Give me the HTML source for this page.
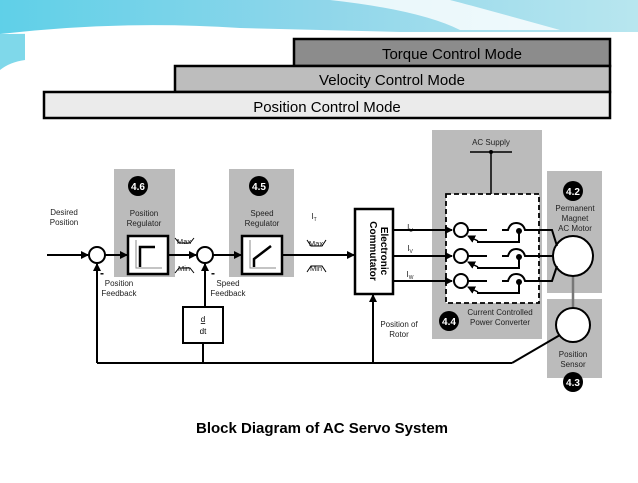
<!DOCTYPE html>
<html><head><style>
body{margin:0;width:638px;height:478px;overflow:hidden;background:#fff;font-family:"Liberation Sans",sans-serif}
</style></head><body>
<svg width="638" height="478" viewBox="0 0 638 478" xmlns="http://www.w3.org/2000/svg" font-family="Liberation Sans, sans-serif">
<defs>
<linearGradient id="g" x1="0" y1="0" x2="1" y2="0"><stop offset="0" stop-color="#5fd0e8"/><stop offset="0.5" stop-color="#8fd6ea"/><stop offset="1" stop-color="#b8e6ef"/></linearGradient>
<marker id="a" markerWidth="8" markerHeight="8" refX="7" refY="4" orient="auto" markerUnits="userSpaceOnUse"><path d="M0,0 L8,4 L0,8z" fill="#000"/></marker>
</defs>
<rect x="0" y="0" width="638" height="34" fill="url(#g)"/>
<path d="M0,34 Q120,20 240,28 L400,32 L0,34z" fill="#fff"/>
<path d="M0,34 L25,34 L25,60 Q10,62 0,70z" fill="#7fd8ea"/>
<path d="M330,0 Q420,10 460,30 L560,30 Q470,5 450,0z" fill="#fff" opacity="0.8"/>
<rect x="25" y="32" width="613" height="446" fill="#fff"/>
<rect x="294" y="39" width="316" height="27" fill="#8c8c8c" stroke="#000" stroke-width="2.5"/>
<text x="452" y="59" font-size="15" text-anchor="middle">Torque Control Mode</text>
<rect x="175" y="66" width="435" height="26" fill="#bdbdbd" stroke="#000" stroke-width="2.5"/>
<text x="392" y="85" font-size="15" text-anchor="middle">Velocity Control Mode</text>
<rect x="44" y="92" width="566" height="26" fill="#ebebeb" stroke="#000" stroke-width="2.5"/>
<text x="327" y="112" font-size="15" text-anchor="middle">Position Control Mode</text>
<rect x="114" y="169" width="61" height="108" fill="#bbb"/>
<rect x="229" y="169" width="65" height="108" fill="#bbb"/>
<rect x="432" y="130" width="110" height="209" fill="#bbb"/>
<rect x="547" y="171" width="55" height="122" fill="#bbb"/>
<rect x="547" y="299" width="55" height="79" fill="#bbb"/>
<g font-size="8" text-anchor="middle" fill="#222">
<text x="64" y="215">Desired</text><text x="64" y="225">Position</text>
<text x="144" y="216">Position</text><text x="144" y="226">Regulator</text>
<text x="262" y="216">Speed</text><text x="262" y="226">Regulator</text>
<text x="314" y="219">I<tspan font-size="5" dy="2">T</tspan></text>
<text x="119" y="286">Position</text><text x="119" y="296">Feedback</text>
<text x="228" y="286">Speed</text><text x="228" y="296">Feedback</text>
<text x="399" y="327">Position of</text><text x="399" y="337">Rotor</text>
<text x="491" y="145">AC Supply</text>
<text x="517" y="207">Current</text><text x="517" y="217">Sensors</text>
<text x="575" y="211">Permanent</text><text x="575" y="221">Magnet</text><text x="575" y="231">AC Motor</text>
<text x="500" y="315">Current Controlled</text><text x="500" y="325">Power Converter</text>
<text x="573" y="357">Position</text><text x="573" y="367">Sensor</text>
<text x="184" y="244" font-size="7.5">Max</text><text x="184" y="271" font-size="7.5">Min</text>
<text x="316" y="246" font-size="7.5">Max</text><text x="316" y="271" font-size="7.5">Min</text>
<text x="410" y="230">I<tspan font-size="5" dy="2">U</tspan></text>
<text x="410" y="251">I<tspan font-size="5" dy="2">V</tspan></text>
<text x="410" y="277">I<tspan font-size="5" dy="2">W</tspan></text>
</g>
<g font-weight="bold" font-size="10" fill="#fff" text-anchor="middle">
<circle cx="138" cy="186" r="10" fill="#000"/><text x="138" y="190">4.6</text>
<circle cx="259" cy="186" r="10" fill="#000"/><text x="259" y="190">4.5</text>
<circle cx="573" cy="191" r="10" fill="#000"/><text x="573" y="195">4.2</text>
<circle cx="573" cy="382" r="10" fill="#000"/><text x="573" y="386">4.3</text>
<circle cx="449" cy="321" r="10" fill="#000"/><text x="449" y="325">4.4</text>
</g>
<g stroke="#000" fill="none" stroke-width="2">
<line x1="47" y1="255" x2="88" y2="255" marker-end="url(#a)"/>
<line x1="105" y1="255" x2="127" y2="255" marker-end="url(#a)"/>
<line x1="168" y1="255" x2="196" y2="255" marker-end="url(#a)"/>
<line x1="213" y1="255" x2="241" y2="255" marker-end="url(#a)"/>
<line x1="282" y1="255" x2="354" y2="255" marker-end="url(#a)"/>
<circle cx="97" cy="255" r="8" fill="#fff"/>
<circle cx="205" cy="255" r="8" fill="#fff"/>
<rect x="128" y="236" width="40" height="38" fill="#fff" stroke-width="2.5"/>
<rect x="242" y="236" width="40" height="38" fill="#fff" stroke-width="2.5"/>
<rect x="183" y="307" width="40" height="36" fill="#fff"/>
<rect x="355" y="209" width="38" height="85" fill="#fff" stroke-width="2.5"/>
<line x1="97" y1="363" x2="512" y2="363"/>
<line x1="512" y1="363" x2="560" y2="335"/>
<line x1="97" y1="363" x2="97" y2="264" marker-end="url(#a)"/>
<line x1="203" y1="363" x2="203" y2="344"/>
<line x1="205" y1="307" x2="205" y2="264" marker-end="url(#a)"/>
<line x1="373" y1="363" x2="373" y2="295" marker-end="url(#a)"/>
<line x1="491" y1="152" x2="491" y2="194" stroke-width="1.5"/>
<line x1="470" y1="152" x2="512" y2="152" stroke-width="1.5"/>
<rect x="446" y="194" width="93" height="109" fill="#fff" stroke-dasharray="5,3" stroke-width="1.8"/>
<line x1="573" y1="276" x2="573" y2="308" stroke="#777" stroke-width="2.5"/>
<circle cx="573" cy="256" r="20" fill="#fff"/>
<circle cx="573" cy="325" r="17" fill="#fff"/>
</g>
<circle cx="491" cy="152" r="2" fill="#000"/>
<g stroke="#000" fill="none">
<path d="M136,240 V268 H162" stroke="#888" stroke-width="1"/>
<path d="M140,267 V247 H155" stroke-width="2.5"/>
<path d="M250,240 V268 H276" stroke="#888" stroke-width="1"/>
<path d="M254,267 V259 L271,246" stroke-width="2.5"/>
<path d="M175,238 L179,243 H190 L194,238" stroke-width="1"/>
<path d="M175,273 L179,268 H190 L194,273" stroke-width="1"/>
<path d="M307,240 L311,246 H322 L326,240" stroke-width="1"/>
<path d="M307,272 L311,266 H322 L326,272" stroke-width="1"/>
</g>
<text x="100" y="277" font-size="12" font-weight="bold">-</text>
<text x="211" y="277" font-size="12" font-weight="bold">-</text>
<text x="203" y="322" font-size="8" text-anchor="middle" text-decoration="underline">d</text>
<text x="203" y="334" font-size="8" text-anchor="middle">dt</text>
<text transform="translate(381,251) rotate(90)" font-size="10" font-weight="bold" text-anchor="middle">Electronic</text>
<text transform="translate(370,251) rotate(90)" font-size="10" font-weight="bold" text-anchor="middle">Commutator</text>
<g stroke="#000" fill="none" stroke-width="2">
<g id="ph">
<line x1="393" y1="230" x2="452" y2="230" marker-end="url(#a)"/>
<circle cx="461" cy="230" r="7" fill="#fff"/>
<line x1="468" y1="230" x2="487" y2="230"/>
<path d="M502,230 H508 Q510,223 516,223 Q523,223 525,230 H540"/>
<path d="M519,231 V242 H477"/>
<line x1="478" y1="241" x2="468" y2="236" marker-end="url(#a)" stroke-width="1.5"/>
</g>
<use href="#ph" y="26"/>
<use href="#ph" y="51"/>
<path d="M540,230 L552,230 L557,246"/>
<line x1="540" y1="256" x2="553" y2="256"/>
<path d="M540,281 L552,281 L557,266"/>
</g>
<circle cx="519" cy="231" r="3" fill="#000"/><circle cx="519" cy="257" r="3" fill="#000"/><circle cx="519" cy="282" r="3" fill="#000"/>
<text x="322" y="433" font-size="15" font-weight="bold" text-anchor="middle">Block Diagram of AC Servo System</text>
</svg>
</body></html>
